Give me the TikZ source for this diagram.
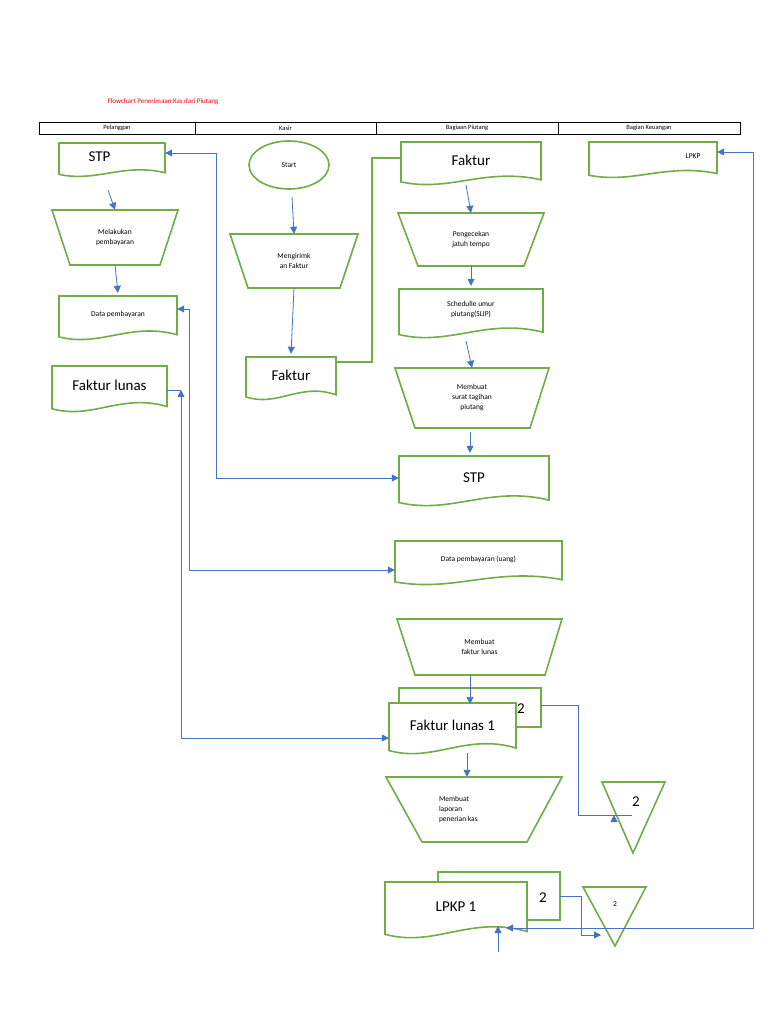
\documentclass[tikz,border=0pt]{standalone}
\usepackage{fontspec}
\setmainfont{Carlito}
\usetikzlibrary{arrows.meta}
\definecolor{gline}{RGB}{112,173,71}
\definecolor{bline}{RGB}{68,114,196}
\tikzset{
  shp/.style={draw=gline, line width=1.6pt, fill=white},
  box/.style={draw=none, inner sep=0pt, align=center},
  arr/.style={draw=bline, line width=0.8pt, -{Triangle[length=7pt,width=7pt]}},
  arrs/.style={draw=bline, line width=0.8pt, {Triangle[length=7pt,width=7pt]}-{Triangle[length=7pt,width=7pt]}},
  sm/.style={font=\fontsize{7.5}{10}\selectfont},
  big/.style={font=\fontsize{15}{18}\selectfont},
  hdr/.style={draw=black, line width=0.8pt, minimum height=12pt, inner sep=0pt, font=\fontsize{6.5}{8}\selectfont},
}
% document shape: name x1 y1 x2 y2 style text
\newcommand\docu[7]{%
  \draw[shp] (#2,#3) -- (#4,#3) -- (#4,{#5-0.1*(#5-#3)})
    .. controls ({#2+0.6*(#4-#2)},{#5-0.4*(#5-#3)}) and ({#2+0.35*(#4-#2)},{#5+0.2*(#5-#3)}) .. (#2,{#5-0.05*(#5-#3)}) -- cycle;
  \node[box,#6,minimum width={(#4-#2)*1pt},minimum height={(#5-#3)*1pt}] (#1) at ({(#2+#4)/2},{(#3+#5)/2-3}) {#7};}
% manual operation: name xt1 xt2 yt xb1 xb2 yb text
\newcommand\trap[8]{%
  \draw[shp] (#2,#4) -- (#3,#4) -- (#6,#7) -- (#5,#7) -- cycle;
  \node[box,sm,minimum width={(#3-#2)*1pt},minimum height={(#7-#4)*1pt}] (#1) at ({(#2+#3)/2},{(#4+#7)/2}) {#8};}
\begin{document}
\begin{tikzpicture}[x=1pt,y=-1pt]
\useasboundingbox (0,0) rectangle (768,1024);
\node[anchor=west, text=red, font=\fontsize{7}{9}\selectfont] (title) at (104,102) {Flowchart Penerimaan Kas dari Piutang};
\node[hdr, minimum width=156pt] (h1) at (117,128) {Pelanggan};
\node[hdr, minimum width=181pt] (h2) at (285.5,128) {Kasir};
\node[hdr, minimum width=182pt] (h3) at (467,128) {Bagiaan Piutang};
\node[hdr, minimum width=182pt] (h4) at (649,128) {Bagian Keuangan};

% Pelanggan
\docu{stpa}{59}{143}{165}{176}{big}{STP\hspace{25pt}}
\coordinate (pa) at (108,190);
\trap{bayar}{52}{178}{210}{70}{160}{265}{Melakukan\\pembayaran}
\docu{data}{59}{296}{177}{339}{sm}{Data pembayaran}
\docu{flunas}{52}{366}{167}{411}{big}{Faktur lunas}
\draw[arr] (pa) -- (bayar.north);
\draw[arr] (bayar.south) -- (data.north);

% Kasir
\draw[shp] (289,165) ellipse (40pt and 24pt);
\node[box,sm] (start) at (289,165) {Start};
\trap{kirim}{230}{358}{234}{248}{340}{288}{Mengirimk\\an Faktur}
\docu{fkasir}{246}{357}{336}{399}{big}{Faktur}
\draw[arr] (292,197) -- (kirim.north);
\draw[arr] (kirim.south) -- (fkasir.north);

% Bagiaan Piutang
\docu{fpiut}{401}{142}{541}{184}{big}{Faktur}
\draw[draw=gline, line width=1.6pt] (fkasir.east |- 0,362) -- (372,362) -- (372,158) -- (fpiut.west |- 0,158);
\trap{cek}{398}{544}{213}{418}{524}{266}{Pengecekan\\jatuh tempo}
\docu{sched}{399}{289}{543}{337}{sm}{Schedulle umur\\piutang(SLIP)}
\trap{tagih}{395}{549}{368}{415}{530}{428}{Membuat\\surat tagihan\\piutang}
\docu{stpb}{399}{456}{549}{505}{big}{STP}
\docu{uang}{395}{541}{562}{584}{sm}{Data pembayaran (uang)}
\trap{buatfl}{397}{562}{619}{415}{545}{675}{Membuat\\faktur lunas}
\draw[shp] (399,688) rectangle (541,727);
\node[box,big] (fl2) at (521,709) {2};
\docu{fl1}{389}{703}{516}{753}{big}{Faktur lunas 1}
\trap{lap}{386}{562}{777}{422}{527}{842}{\parbox{70pt}{\raggedright Membuat\\laporan\\penerian kas}}
\draw[shp] (438,872) rectangle (560,920);
\node[box,big] (lp2) at (543,898) {2};
\docu{lp1}{385}{882}{527}{937}{big}{LPKP 1}
\draw[arr] (466,185) -- (cek.north);
\draw[arr] (cek.south) -- (sched.north);
\draw[arr] (466,341) -- (tagih.north);
\draw[arr] (470,432) -- (stpb.north -| 470,0);
\draw[arr] (buatfl.south -| 470,0) -- (fl2.north -| 470,0);
\draw[arr] (467,753) -- (lap.north -| 467,0);

% off-page connectors
\draw[shp] (602,782) -- (665,782) -- (633,853) -- cycle;
\node[box,big] (t1) at (636,802) {2};
\draw[shp] (583,887) -- (646,887) -- (615,946) -- cycle;
\node[box,sm] (t2) at (615,904) {2};

% Bagian Keuangan
\docu{lpkp}{589}{142}{717}{177}{sm}{\hspace{80pt}LPKP}

% long connectors
\draw[arrs] (stpa.east |- 0,153) -- (216,153) -- (216,478) -- (stpb.west |- 0,478);
\draw[arrs] (data.east |- 0,309) -- (189,309) -- (189,570) -- (uang.west |- 0,570);
\draw[arrs] (181,390) -- (181,738) -- (fl1.west |- 0,738);
\draw[bline, line width=0.8pt] (flunas.east |- 0,390) -- (181,390);
\draw[arr] (541,705) -- (578,705) -- (578,815) -- (t1.west |- 0,815) ++(-18,0);
\draw[arr] (560,896) -- (581,896) -- (581,935) -- (601,935);
\draw[arr] (498,952) -- (498,926);
\draw[arrs] (lpkp.east |- 0,152) -- (753,152) -- (753,928) -- (506,928);
\end{tikzpicture}
\end{document}
